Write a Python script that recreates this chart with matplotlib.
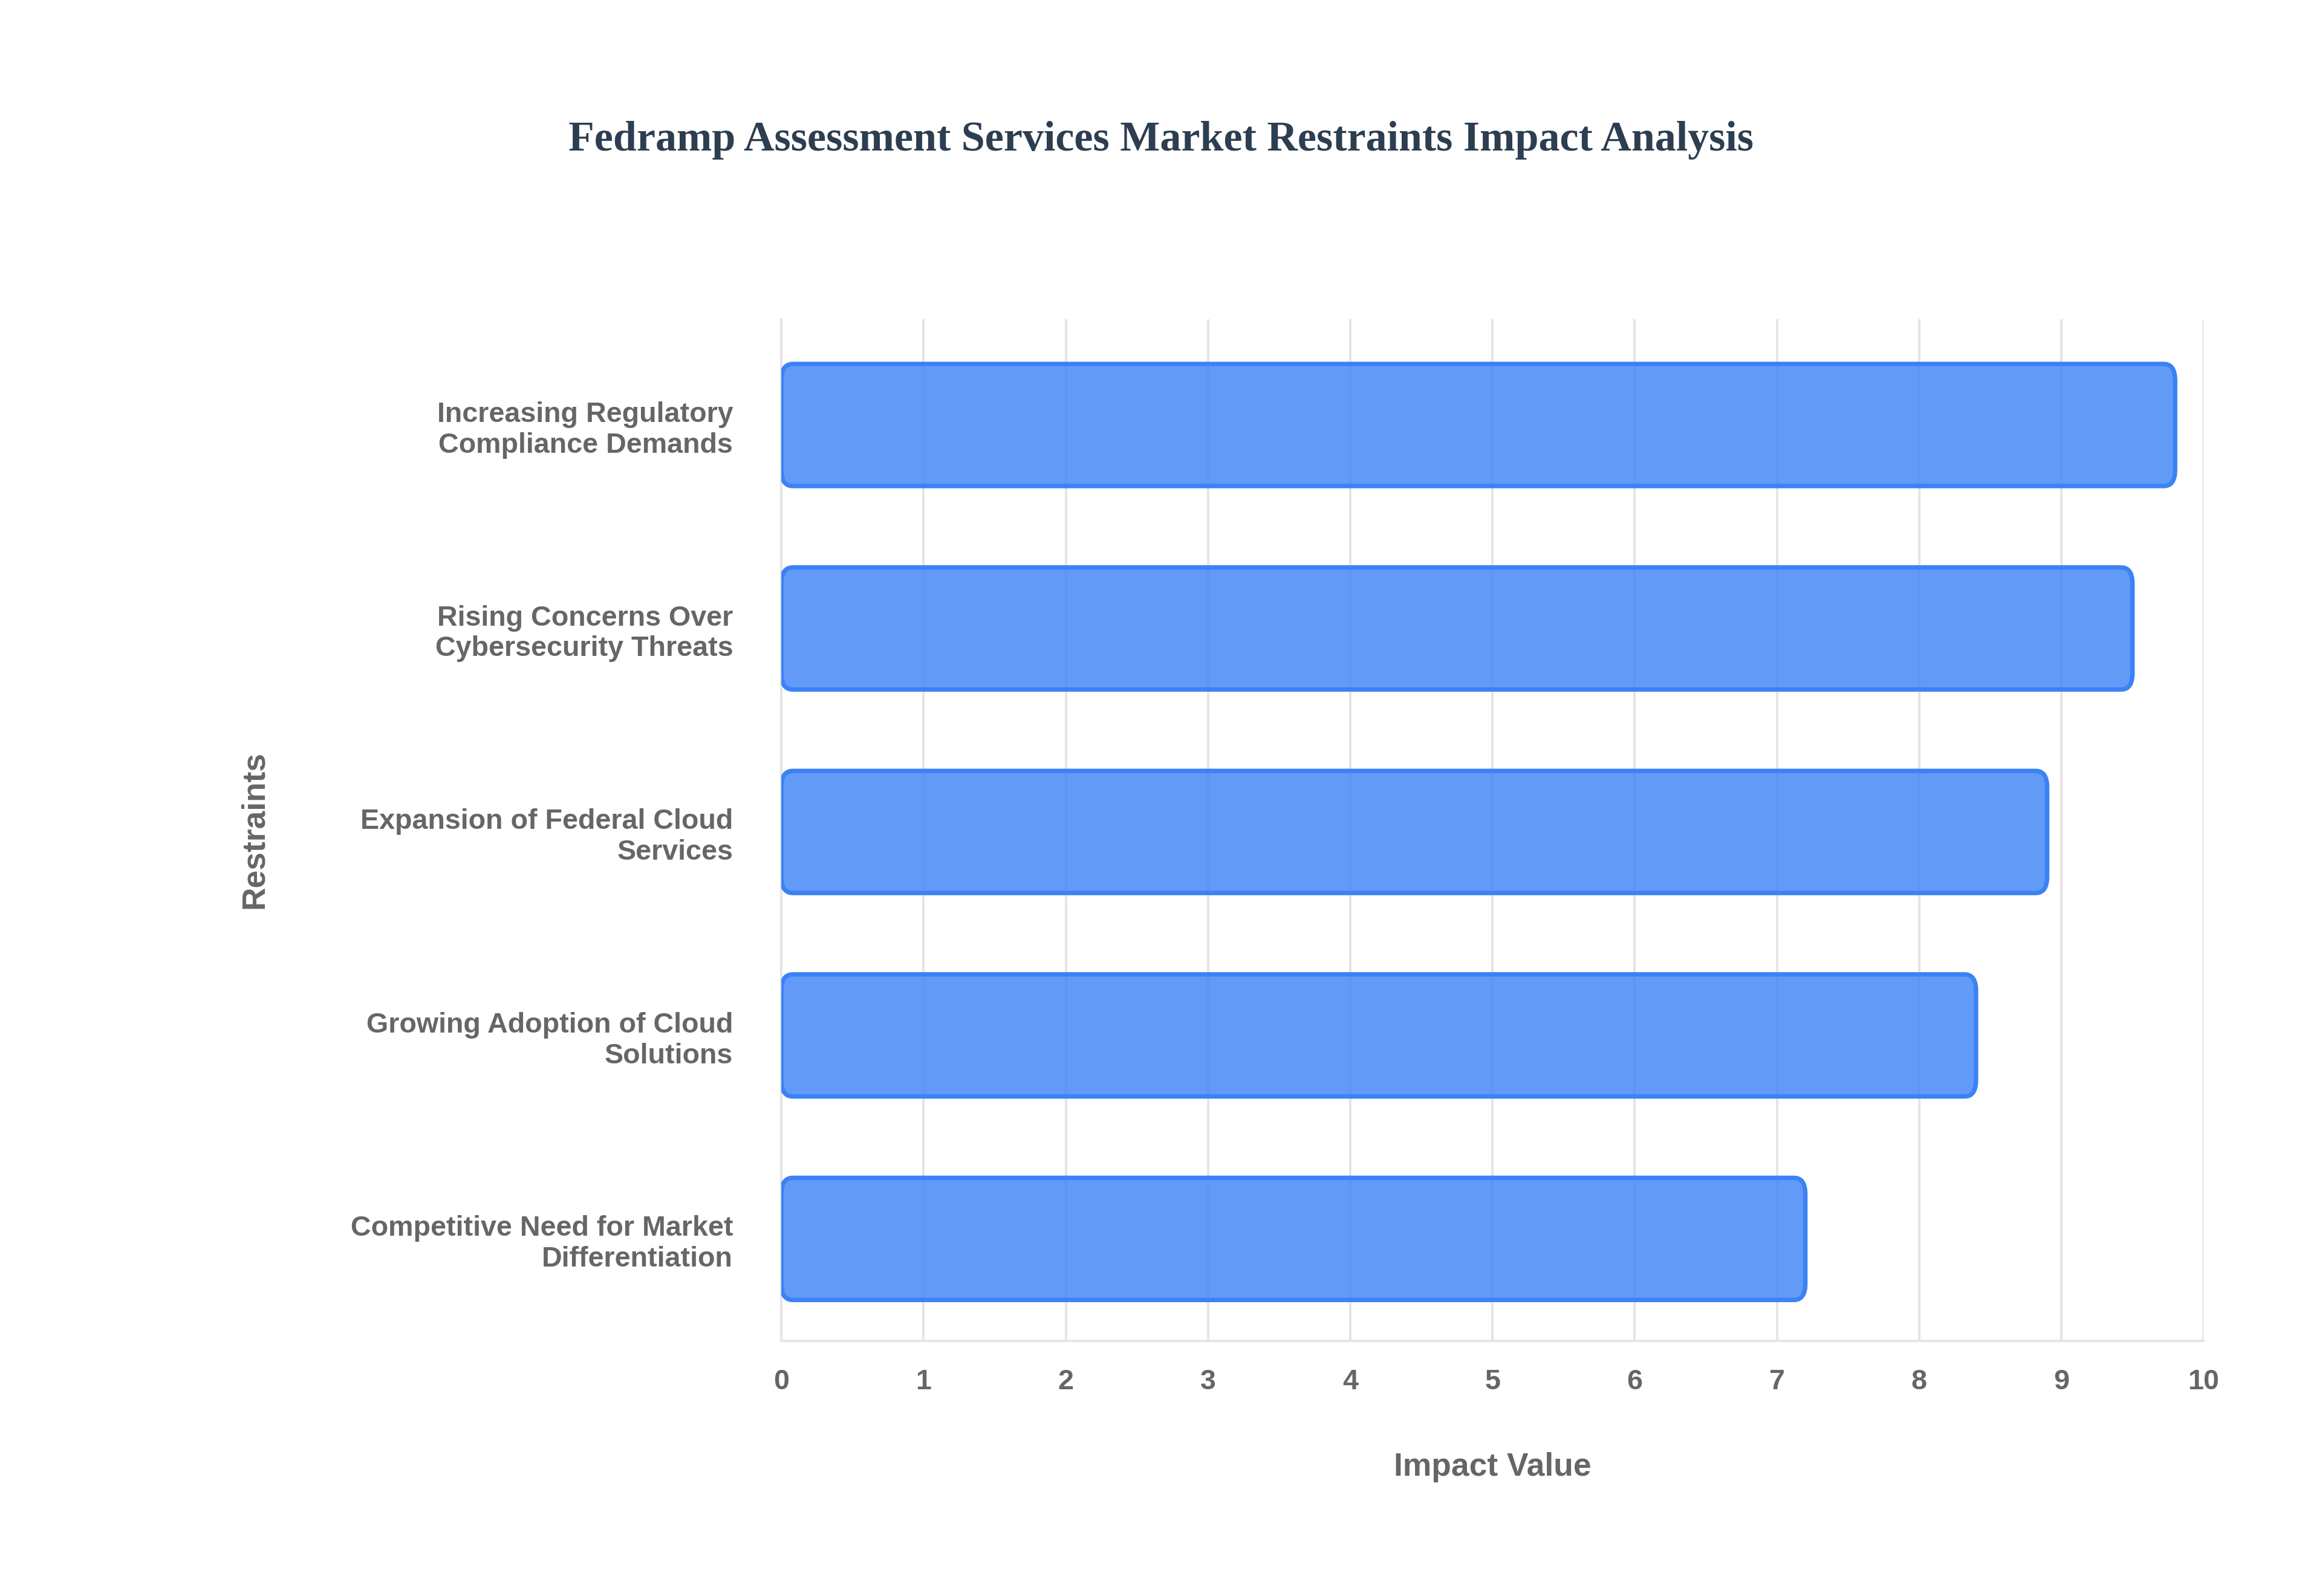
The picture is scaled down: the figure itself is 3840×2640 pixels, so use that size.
import matplotlib
matplotlib.use("Agg")
import matplotlib.pyplot as plt
from matplotlib.patches import FancyBboxPatch

categories = ["Increasing Regulatory\nCompliance Demands",
              "Rising Concerns Over\nCybersecurity Threats",
              "Expansion of Federal Cloud\nServices",
              "Growing Adoption of Cloud\nSolutions",
              "Competitive Need for Market\nDifferentiation"]
values = [9.8, 9.5, 8.9, 8.4, 7.2]
xticks = list(range(0, 11))

fig = plt.figure(figsize=(16, 11), dpi=240)
ax = fig.add_axes([0.3365, 0.16, 0.6125, 0.64])
pos = list(range(len(categories)))
bars = ax.barh(pos, values, height=0.6, color="#3b82f6", alpha=0.0)
for b in bars:
    x, y, w, h = b.get_x(), b.get_y(), b.get_width(), b.get_height()
    p = FancyBboxPatch((x, y), w, h, boxstyle="round,pad=0,rounding_size=0.08",
                       mutation_aspect=1.0, facecolor=(0.231, 0.510, 0.965, 0.8),
                       edgecolor="#3b82f6", linewidth=2.2, zorder=3)
    ax.add_patch(p)
ax.set_ylim(len(categories) - 0.5, -0.52)
ax.set_xlim(0, 10)
ax.set_yticks(pos)
ax.set_yticklabels(categories, fontsize=14, fontweight="bold", color="#666666",
                   family="Liberation Sans", ha="right")
ax.set_xticks(xticks)
ax.set_xticklabels([str(t) for t in xticks], fontsize=14, fontweight="bold",
                   color="#666666", family="Liberation Sans")
ax.tick_params(length=0, pad=14)
ax.tick_params(axis="y", pad=24)
ax.grid(axis="x", color="#e5e5e5", linewidth=1.2, zorder=0)
ax.set_axisbelow(True)
for s in ["top", "right"]:
    ax.spines[s].set_visible(False)
for s in ["left", "bottom"]:
    ax.spines[s].set_color("#e5e5e5")
    ax.spines[s].set_linewidth(1.2)
ax.set_xlabel("Impact Value", fontsize=16, fontweight="bold", color="#666666",
              family="Liberation Sans", labelpad=28)
ax.set_ylabel("Restraints", fontsize=16, fontweight="bold", color="#666666",
              family="Liberation Sans", labelpad=40)
fig.text(0.5, 0.912, "Fedramp Assessment Services Market Restraints Impact Analysis",
         ha="center", va="center", fontsize=21, fontweight="bold", color="#2c3e50",
         family="Liberation Serif")
fig.savefig("out.png", dpi=240, facecolor="white")
